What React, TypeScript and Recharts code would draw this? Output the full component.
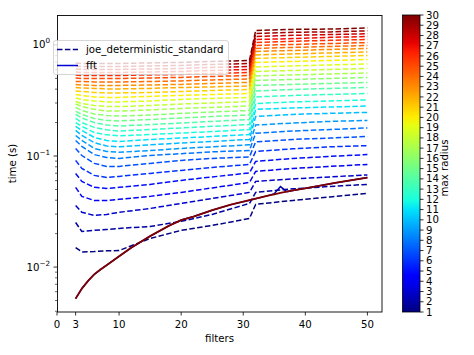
import React from "react";
import { LineChart, Line, XAxis, YAxis } from "recharts";

// filters sampled for the joe_deterministic_standard curves
const joeX = [3, 4, 6, 8, 10, 15, 20, 25, 31, 32, 38, 44, 50];

// time (s) per max radius
const joeR1 = [0.015, 0.0137, 0.0138, 0.014, 0.0141, 0.0181, 0.0214, 0.0237, 0.0274, 0.0367, 0.0398, 0.0428, 0.046];
const joeR2 = [0.0252, 0.0209, 0.0214, 0.0218, 0.0223, 0.0232, 0.0258, 0.0298, 0.0374, 0.047, 0.0506, 0.0532, 0.0555];
const joeR3 = [0.0359, 0.0311, 0.0292, 0.0298, 0.0311, 0.0337, 0.0374, 0.0415, 0.047, 0.0591, 0.0622, 0.0648, 0.0676];
const joeR4 = [0.0522, 0.0433, 0.0398, 0.0398, 0.0407, 0.0433, 0.047, 0.0516, 0.0578, 0.0727, 0.0773, 0.0806, 0.084];
const joeR5 = [0.0697, 0.0591, 0.0522, 0.0511, 0.0522, 0.0555, 0.0603, 0.0648, 0.0704, 0.0894, 0.0951, 0.0992, 0.103];
const joeR6 = [0.0913, 0.0773, 0.0669, 0.0642, 0.0655, 0.0697, 0.0742, 0.0789, 0.084, 0.11, 0.116, 0.121, 0.124];
const joeR7 = [0.117, 0.101, 0.0858, 0.0806, 0.0806, 0.0858, 0.0913, 0.0951, 0.0982, 0.134, 0.141, 0.145, 0.15];
const joeR8 = [0.138, 0.122, 0.103, 0.0971, 0.0951, 0.101, 0.105, 0.109, 0.112, 0.16, 0.168, 0.173, 0.179];
const joeR9 = [0.153, 0.138, 0.117, 0.11, 0.108, 0.112, 0.117, 0.121, 0.126, 0.19, 0.198, 0.205, 0.209];
const joeR10 = [0.17, 0.153, 0.132, 0.123, 0.121, 0.126, 0.131, 0.135, 0.141, 0.227, 0.237, 0.242, 0.247];
const joeR11 = [0.185, 0.17, 0.147, 0.138, 0.135, 0.141, 0.145, 0.15, 0.156, 0.263, 0.271, 0.276, 0.282];
const joeR12 = [0.2, 0.185, 0.163, 0.155, 0.152, 0.156, 0.161, 0.166, 0.173, 0.297, 0.307, 0.313, 0.32];
const joeR13 = [0.218, 0.2, 0.181, 0.172, 0.168, 0.173, 0.179, 0.185, 0.192, 0.34, 0.351, 0.358, 0.366];
const joeR14 = [0.237, 0.22, 0.2, 0.19, 0.186, 0.192, 0.198, 0.205, 0.213, 0.385, 0.397, 0.406, 0.414];
const joeR15 = [0.252, 0.237, 0.218, 0.209, 0.207, 0.213, 0.22, 0.227, 0.234, 0.432, 0.441, 0.45, 0.46];
const joeR16 = [0.274, 0.257, 0.239, 0.232, 0.229, 0.234, 0.242, 0.249, 0.257, 0.479, 0.489, 0.499, 0.51];
const joeR17 = [0.294, 0.279, 0.263, 0.254, 0.254, 0.26, 0.268, 0.274, 0.282, 0.526, 0.537, 0.548, 0.56];
const joeR18 = [0.31, 0.297, 0.285, 0.279, 0.279, 0.285, 0.294, 0.3, 0.31, 0.577, 0.589, 0.602, 0.614];
const joeR19 = [0.333, 0.323, 0.313, 0.307, 0.307, 0.313, 0.323, 0.33, 0.337, 0.634, 0.647, 0.661, 0.674];
const joeR20 = [0.358, 0.351, 0.34, 0.337, 0.337, 0.344, 0.351, 0.358, 0.366, 0.696, 0.71, 0.725, 0.74];
const joeR21 = [0.385, 0.381, 0.373, 0.37, 0.37, 0.373, 0.381, 0.389, 0.397, 0.756, 0.772, 0.788, 0.804];
const joeR22 = [0.414, 0.41, 0.406, 0.402, 0.402, 0.406, 0.414, 0.419, 0.427, 0.813, 0.83, 0.847, 0.865];
const joeR23 = [0.441, 0.436, 0.432, 0.432, 0.432, 0.436, 0.441, 0.45, 0.46, 0.874, 0.892, 0.911, 0.93];
const joeR24 = [0.469, 0.469, 0.464, 0.464, 0.464, 0.469, 0.474, 0.484, 0.494, 0.93, 0.95, 0.969, 0.99];
const joeR25 = [0.504, 0.499, 0.499, 0.499, 0.499, 0.504, 0.51, 0.52, 0.531, 0.99, 1.01, 1.03, 1.05];
const joeR26 = [0.537, 0.531, 0.531, 0.531, 0.531, 0.537, 0.542, 0.554, 0.565, 1.05, 1.08, 1.1, 1.12];
const joeR27 = [0.571, 0.565, 0.565, 0.565, 0.565, 0.571, 0.577, 0.589, 0.602, 1.12, 1.14, 1.17, 1.19];
const joeR28 = [0.608, 0.602, 0.602, 0.602, 0.602, 0.608, 0.614, 0.627, 0.64, 1.19, 1.22, 1.24, 1.26];
const joeR29 = [0.647, 0.64, 0.64, 0.64, 0.64, 0.647, 0.654, 0.667, 0.681, 1.27, 1.3, 1.31, 1.34];
const joeR30 = [0.689, 0.681, 0.681, 0.681, 0.681, 0.689, 0.696, 0.71, 0.725, 1.35, 1.38, 1.39, 1.42];

const joeTimes = [
  joeR1, joeR2, joeR3, joeR4, joeR5, joeR6, joeR7, joeR8, joeR9, joeR10,
  joeR11, joeR12, joeR13, joeR14, joeR15, joeR16, joeR17, joeR18, joeR19, joeR20,
  joeR21, joeR22, joeR23, joeR24, joeR25, joeR26, joeR27, joeR28, joeR29, joeR30,
];
const radii = [1, 2, 3, 4, 5, 6, 7, 8, 9, 10, 11, 12, 13, 14, 15, 16, 17, 18, 19, 20, 21, 22, 23, 24, 25, 26, 27, 28, 29, 30];

// fft curves (they all sit on top of each other, one blue one has a blip at 36)
const fftX = [3, 4, 5, 6, 7, 8, 10, 12, 15, 18, 20, 22, 25, 28, 31, 34, 35, 36, 37, 38, 40, 45, 50];
const fftR30 = [0.0052, 0.0064, 0.0075, 0.0086, 0.0095, 0.0104, 0.0125, 0.015, 0.019, 0.0235, 0.0265, 0.0285, 0.0325, 0.0365, 0.04, 0.044, 0.0452, 0.0465, 0.0478, 0.049, 0.0512, 0.0575, 0.064];
const fftR2 = [0.0052, 0.0064, 0.0075, 0.0086, 0.0095, 0.0104, 0.0125, 0.015, 0.019, 0.0235, 0.0265, 0.0285, 0.0325, 0.0365, 0.04, 0.044, 0.0458, 0.053, 0.0478, 0.049, 0.0512, 0.0575, 0.064];

const xTicks = [0, 3, 10, 20, 30, 40, 50];
const yMajor = [0.01, 0.1, 1];
const yMinor = [0.004, 0.005, 0.006, 0.007, 0.008, 0.009, 0.02, 0.03, 0.04, 0.05, 0.06, 0.07, 0.08, 0.09, 0.2, 0.3, 0.4, 0.5, 0.6, 0.7, 0.8, 0.9];

const FONT = "DejaVu Sans, sans-serif";

function seg(pts: number[][], v: number) {
  for (let i = 1; i < pts.length; i++) {
    if (v <= pts[i][0]) {
      const [x0, y0] = pts[i - 1];
      const [x1, y1] = pts[i];
      return y0 + ((v - x0) / (x1 - x0)) * (y1 - y0);
    }
  }
  return pts[pts.length - 1][1];
}

function jet(t: number) {
  const v = Math.min(255, Math.floor(t * 256)) / 255;
  const r = seg([[0, 0], [0.35, 0], [0.66, 1], [0.89, 1], [1, 0.5]], v);
  const g = seg([[0, 0], [0.125, 0], [0.375, 1], [0.64, 1], [0.91, 0], [1, 0]], v);
  const b = seg([[0, 0.5], [0.11, 1], [0.34, 1], [0.65, 0], [1, 0]], v);
  return `rgb(${Math.round(r * 255)},${Math.round(g * 255)},${Math.round(b * 255)})`;
}

const isMajor = (v: number) => yMajor.some((m) => Math.abs(m - v) < 1e-9);

function YTick(props: any) {
  const { x, y, payload } = props;
  const v = payload.value;
  if (isMajor(v)) {
    const exp = Math.round(Math.log10(v));
    return (
      <g>
        <line x1={x - 3.5} x2={x} y1={y} y2={y} stroke="#000" strokeWidth={0.8} />
        <text x={x - 7} y={y + 3.5} textAnchor="end" fontSize={10.2} fontFamily={FONT} fill="#000">
          10
          <tspan dy={-5} fontSize={7.2}>{exp < 0 ? "\u2212" + Math.abs(exp) : String(exp)}</tspan>
        </text>
      </g>
    );
  }
  return <line x1={x - 2} x2={x} y1={y} y2={y} stroke="#000" strokeWidth={0.6} />;
}

function XTick(props: any) {
  const { x, y, payload } = props;
  return (
    <g>
      <line x1={x} x2={x} y1={y} y2={y + 3.5} stroke="#000" strokeWidth={0.8} />
      <text x={x} y={y + 16} textAnchor="middle" fontSize={10.2} fontFamily={FONT} fill="#000">
        {payload.value}
      </text>
    </g>
  );
}

export default function App() {
  const cbTop = 15;
  const cbBottom = 312;
  const cbY = (r: number) => cbBottom - ((r - 1) / 29) * (cbBottom - cbTop);
  const stops = Array.from({ length: 33 }, (_, i) => i / 32);

  return (
    <div style={{ position: "absolute", left: 0, top: 0, width: 474, height: 355, background: "#fff" }}>
      <LineChart width={474} height={355} margin={{ top: 15, right: 92, bottom: 13, left: 0 }}>
        <XAxis
          type="number"
          dataKey="x"
          domain={[0, 52.35]}
          allowDataOverflow
          ticks={xTicks}
          interval={0}
          height={30}
          tickSize={0}
          tickMargin={0}
          tickLine={false}
          axisLine={false}
          tick={<XTick />}
        />
        <YAxis
          type="number"
          scale="log"
          domain={[0.00394, 1.86]}
          allowDataOverflow
          ticks={[...yMinor, ...yMajor]}
          interval={0}
          width={57}
          tickSize={0}
          tickMargin={0}
          tickLine={false}
          axisLine={false}
          tick={<YTick />}
        />
        {joeTimes.map((ts, i) => {
          const key = `r${radii[i]}`;
          return (
            <Line
              key={"joe" + key}
              data={joeX.map((x, j) => ({ x, [key]: ts[j] }))}
              dataKey={key}
              type="linear"
              stroke={jet(i / 29)}
              strokeWidth={1.5}
              strokeDasharray="5.5 2.4"
              dot={false}
              activeDot={false}
              isAnimationActive={false}
            />
          );
        })}
        <Line
          data={fftX.map((x, j) => ({ x, f2: fftR2[j] }))}
          dataKey="f2"
          type="linear"
          stroke={jet(1 / 29)}
          strokeWidth={1.5}
          dot={false}
          activeDot={false}
          isAnimationActive={false}
        />
        <Line
          data={fftX.map((x, j) => ({ x, f30: fftR30[j] }))}
          dataKey="f30"
          type="linear"
          stroke={jet(1)}
          strokeWidth={1.8}
          dot={false}
          activeDot={false}
          isAnimationActive={false}
        />
      </LineChart>

      <svg width={474} height={355} style={{ position: "absolute", left: 0, top: 0, pointerEvents: "none" }}>
        <defs>
          <linearGradient id="jetGrad" x1="0" y1="1" x2="0" y2="0">
            {stops.map((s) => (
              <stop key={s} offset={s} stopColor={jet(s)} />
            ))}
          </linearGradient>
        </defs>
        {/* axes frame */}
        <rect x={57.5} y={15.5} width={324.5} height={296.5} fill="none" stroke="#000" strokeWidth={0.9} />

        {/* legend */}
        <rect x={53.5} y={40.5} width={175} height={34} rx={2.5} fill="#fff" fillOpacity={0.8} stroke="#cccccc" strokeOpacity={0.8} />
        <line x1={57} x2={78} y1={49.5} y2={49.5} stroke={jet(0)} strokeWidth={1.5} strokeDasharray="5.5 2.4" />
        <text x={86} y={53} fontSize={10.2} fontFamily={FONT} fill="#000">joe_deterministic_standard</text>
        <line x1={57} x2={78} y1={65.5} y2={65.5} stroke="#0000d0" strokeWidth={1.5} />
        <text x={86} y={69} fontSize={10.2} fontFamily={FONT} fill="#000">fft</text>

        {/* axis labels */}
        <text x={219.5} y={342} textAnchor="middle" fontSize={10.2} fontFamily={FONT} fill="#000">filters</text>
        <text x={15.5} y={163.5} textAnchor="middle" fontSize={10.2} fontFamily={FONT} fill="#000" transform="rotate(-90 15.5 163.5)">time (s)</text>

        {/* colorbar */}
        <rect x={402.5} y={cbTop} width={17.5} height={cbBottom - cbTop} fill="url(#jetGrad)" />
        <rect x={402.5} y={cbTop} width={17.5} height={cbBottom - cbTop} fill="none" stroke="#000" strokeWidth={0.8} />
        {radii.map((r) => (
          <g key={"cb" + r}>
            <line x1={420} x2={423.5} y1={cbY(r)} y2={cbY(r)} stroke="#000" strokeWidth={0.8} />
            <text x={426} y={cbY(r) + 3.6} fontSize={10.2} fontFamily={FONT} fill="#000">{r}</text>
          </g>
        ))}
        <text x={448} y={168} textAnchor="middle" fontSize={10.2} fontFamily={FONT} fill="#000" transform="rotate(-90 448 168)">max radius</text>
      </svg>
    </div>
  );
}
